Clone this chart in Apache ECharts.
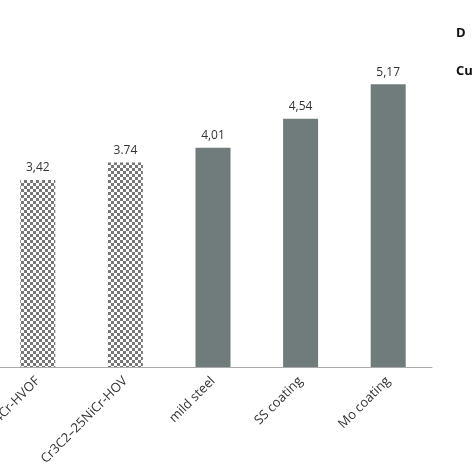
<!DOCTYPE html>
<html><head><meta charset="utf-8">
<script src="https://cdn.jsdelivr.net/npm/echarts@6/dist/echarts.min.js"></script>
<style>html,body{margin:0;padding:0;background:#fff}#c{width:474px;height:474px}</style>
</head><body><div id="c"></div>
<script>
const categories = ['WC-10Co-4Cr-HVOF', 'Cr3C2–25NiCr-HOV', 'mild steel', 'SS coating', 'Mo coating'];
const values = [3.42, 3.74, 4.01, 4.54, 5.17];
const valueLabels = ['3,42', '3.74', '4,01', '4,54', '5,17'];
const patterned = [true, true, false, false, false];

const cv = document.createElement('canvas');
cv.width = 6; cv.height = 6;
const cx = cv.getContext('2d');
cx.fillStyle = '#fff'; cx.fillRect(0,0,6,6);
cx.fillStyle = '#777'; cx.fillRect(0,0,3,3); cx.fillRect(3,3,3,3);

const chart = echarts.init(document.getElementById('c'));
chart.setOption({
  animation: false,
  textStyle: {fontFamily: 'Open Sans'},
  grid: {left: -6, width: 438, top: 39, bottom: 107, containLabel: false, outerBoundsMode: 'none'},
  xAxis: {type: 'category', data: categories,
    axisLine: {lineStyle: {color: '#aaa'}}, axisTick: {show: false},
    axisLabel: {rotate: 45, color: '#333', fontSize: 13, margin: 12, interval: 0}},
  yAxis: {type: 'value', min: 0, max: 6, show: false, splitLine: {show: false}},
  series: [{type: 'bar', barWidth: 35,
    data: values.map((v, i) => ({value: v,
      itemStyle: {color: patterned[i] ? {image: cv, repeat: 'repeat'} : '#707c7c'}})),
    label: {show: true, position: 'top', distance: 6, color: '#333', fontSize: 12,
      formatter: p => valueLabels[p.dataIndex]}}],
  graphic: [
    {type: 'text', left: 456, top: 27, style: {text: 'D', fontSize: 13, fontWeight: 'bold', fill: '#111', fontFamily: 'Open Sans'}},
    {type: 'text', left: 456, top: 65, style: {text: 'Cu', fontSize: 13, fontWeight: 'bold', fill: '#111', fontFamily: 'Open Sans'}}
  ]
});
</script></body></html>
